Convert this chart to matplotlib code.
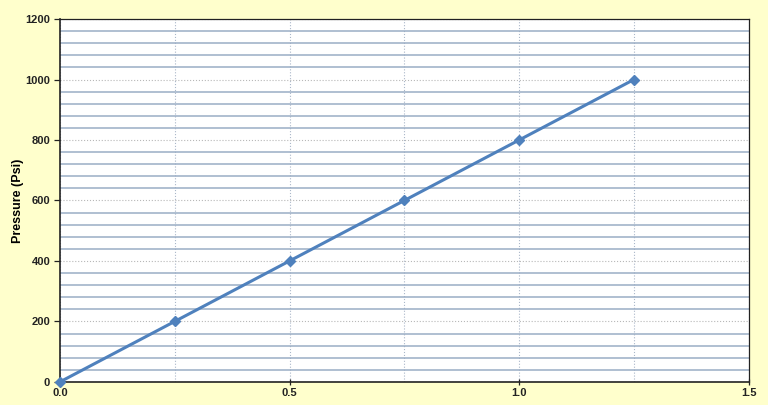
import numpy as np
import matplotlib.pyplot as plt
from matplotlib.ticker import MultipleLocator, FormatStrFormatter

displacement = [0.0, 0.25, 0.5, 0.75, 1.0, 1.25]
pressure = [0, 200, 400, 600, 800, 1000]

plt.rcParams['font.family'] = ['Liberation Sans', 'DejaVu Sans']

fig = plt.figure(figsize=(7.68, 4.05), dpi=100, facecolor='#ffffcc')
ax = fig.add_axes([0.078, 0.057, 0.897, 0.896])
ax.set_facecolor('white')

ax.set_xlim(0, 1.5)
ax.set_ylim(0, 1200)
ax.xaxis.set_major_locator(MultipleLocator(0.5))
ax.xaxis.set_minor_locator(MultipleLocator(0.25))
ax.yaxis.set_major_locator(MultipleLocator(200))
ax.yaxis.set_minor_locator(MultipleLocator(40))
ax.xaxis.set_major_formatter(FormatStrFormatter('%.1f'))

# grid
ax.grid(which='major', axis='y', color='#b8b8b8', linestyle=':', linewidth=0.8)
ax.grid(which='minor', axis='y', color='#9aadc5', linestyle='-', linewidth=1.1)
ax.grid(which='both', axis='x', color='#aab7c9', linestyle=':', linewidth=0.8)
ax.set_axisbelow(True)

ax.plot(displacement, pressure, color='#4f81bd', linewidth=2.2,
        marker='D', markersize=5, clip_on=False, zorder=3)

ax.set_ylabel('Pressure (Psi)', fontsize=9, fontweight='bold')
ax.yaxis.set_label_coords(-0.052, 0.5)

for s in ax.spines.values():
    s.set_color('#222222')
    s.set_linewidth(0.9)
ax.spines['left'].set_linewidth(1.2)
ax.spines['bottom'].set_linewidth(1.2)

ax.tick_params(axis='both', which='major', labelsize=8, length=4, width=0.9, color='#222222')
ax.tick_params(axis='x', which='major', direction='inout', length=5, pad=2)
ax.tick_params(axis='y', which='major', direction='out', pad=3)
ax.tick_params(which='minor', length=0)
for lab in ax.get_xticklabels() + ax.get_yticklabels():
    lab.set_fontweight('bold')
    lab.set_color('#222222')

plt.savefig('out.png', dpi=100, facecolor=fig.get_facecolor())
